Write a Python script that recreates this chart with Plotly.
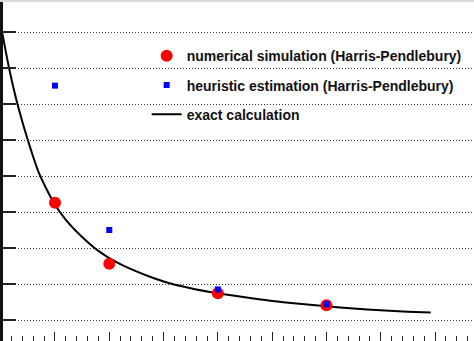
import plotly.graph_objects as go

# Sample points (x) and their values for the two estimates
x_points = [1, 2, 4, 6]
numerical_sim = [4.26, 2.56, 1.74, 1.41]
heuristic_est = [7.51, 3.50, 1.85, 1.44]

# Exact calculation curve
exact_x = [0.024, 0.15, 0.3, 0.5, 0.7, 0.9, 1.0, 1.2, 1.4, 1.6, 1.8, 2.0, 2.25,
           2.5, 2.75, 3.0, 3.5, 4.0, 4.5, 5.0, 5.5, 6.0, 6.5, 7.0, 7.5, 7.92]
exact_y = [9.01, 8.03, 7.05, 6.00, 5.10, 4.47, 4.20, 3.78, 3.45, 3.17, 2.92, 2.72, 2.52,
           2.35, 2.20, 2.07, 1.88, 1.74, 1.63, 1.53, 1.45, 1.38, 1.32, 1.27, 1.23, 1.205]

y_grid = [1, 2, 3, 4, 5, 6, 7, 8, 9]

legend_font = dict(family="Liberation Sans, Arial, sans-serif", size=14,
                   color="#111111", weight="bold")

fig = go.Figure()

fig.add_trace(go.Scatter(
    x=exact_x, y=exact_y, mode="lines",
    line=dict(color="black", width=2, shape="spline", smoothing=0.8),
    name="exact calculation", legendgroup="c", legendrank=3,
))
fig.add_trace(go.Scatter(
    x=x_points, y=numerical_sim, mode="markers",
    marker=dict(symbol="circle", size=12, color="#ff0000", line=dict(width=0)),
    name="numerical simulation (Harris-Pendlebury)", legendgroup="a", legendrank=1,
))
fig.add_trace(go.Scatter(
    x=x_points, y=heuristic_est, mode="markers",
    marker=dict(symbol="square", size=6, color="#0000ff", line=dict(width=0)),
    name="heuristic estimation (Harris-Pendlebury)", legendgroup="b", legendrank=2,
))

fig.update_layout(
    width=474, height=341,
    margin=dict(l=3, r=0, t=0, b=0),
    paper_bgcolor="white", plot_bgcolor="white",
    showlegend=True,
    legend=dict(
        x=0.305, y=0.882, xanchor="left", yanchor="top",
        bgcolor="rgba(0,0,0,0)", borderwidth=0,
        font=legend_font, itemwidth=30,
        traceorder="grouped", tracegroupgap=8,
    ),
    xaxis=dict(
        range=[0.0424, 8.718], showgrid=False, zeroline=False, showline=False,
        showticklabels=False, ticks="inside", tick0=0, dtick=1,
        ticklen=9, tickwidth=1, tickcolor="#222222",
        minor=dict(ticks="inside", dtick=0.2, tick0=0, ticklen=5,
                   tickwidth=1, tickcolor="#222222", showgrid=False),
    ),
    yaxis=dict(
        range=[0.4167, 9.889], tickvals=y_grid, showticklabels=False,
        ticks="inside", ticklen=13, tickwidth=2, tickcolor="#222222",
        showgrid=True, gridcolor="#333333", gridwidth=1, griddash="1px,2px",
        zeroline=False, showline=True, linecolor="#111111", linewidth=3,
    ),
    shapes=[dict(type="rect", xref="paper", yref="paper",
                 x0=-0.01, x1=1.0, y0=1 - 2 / 341, y1=1.0,
                 fillcolor="#d9d9d9", line=dict(width=0), layer="above")],
)

fig.write_html("out.html")
